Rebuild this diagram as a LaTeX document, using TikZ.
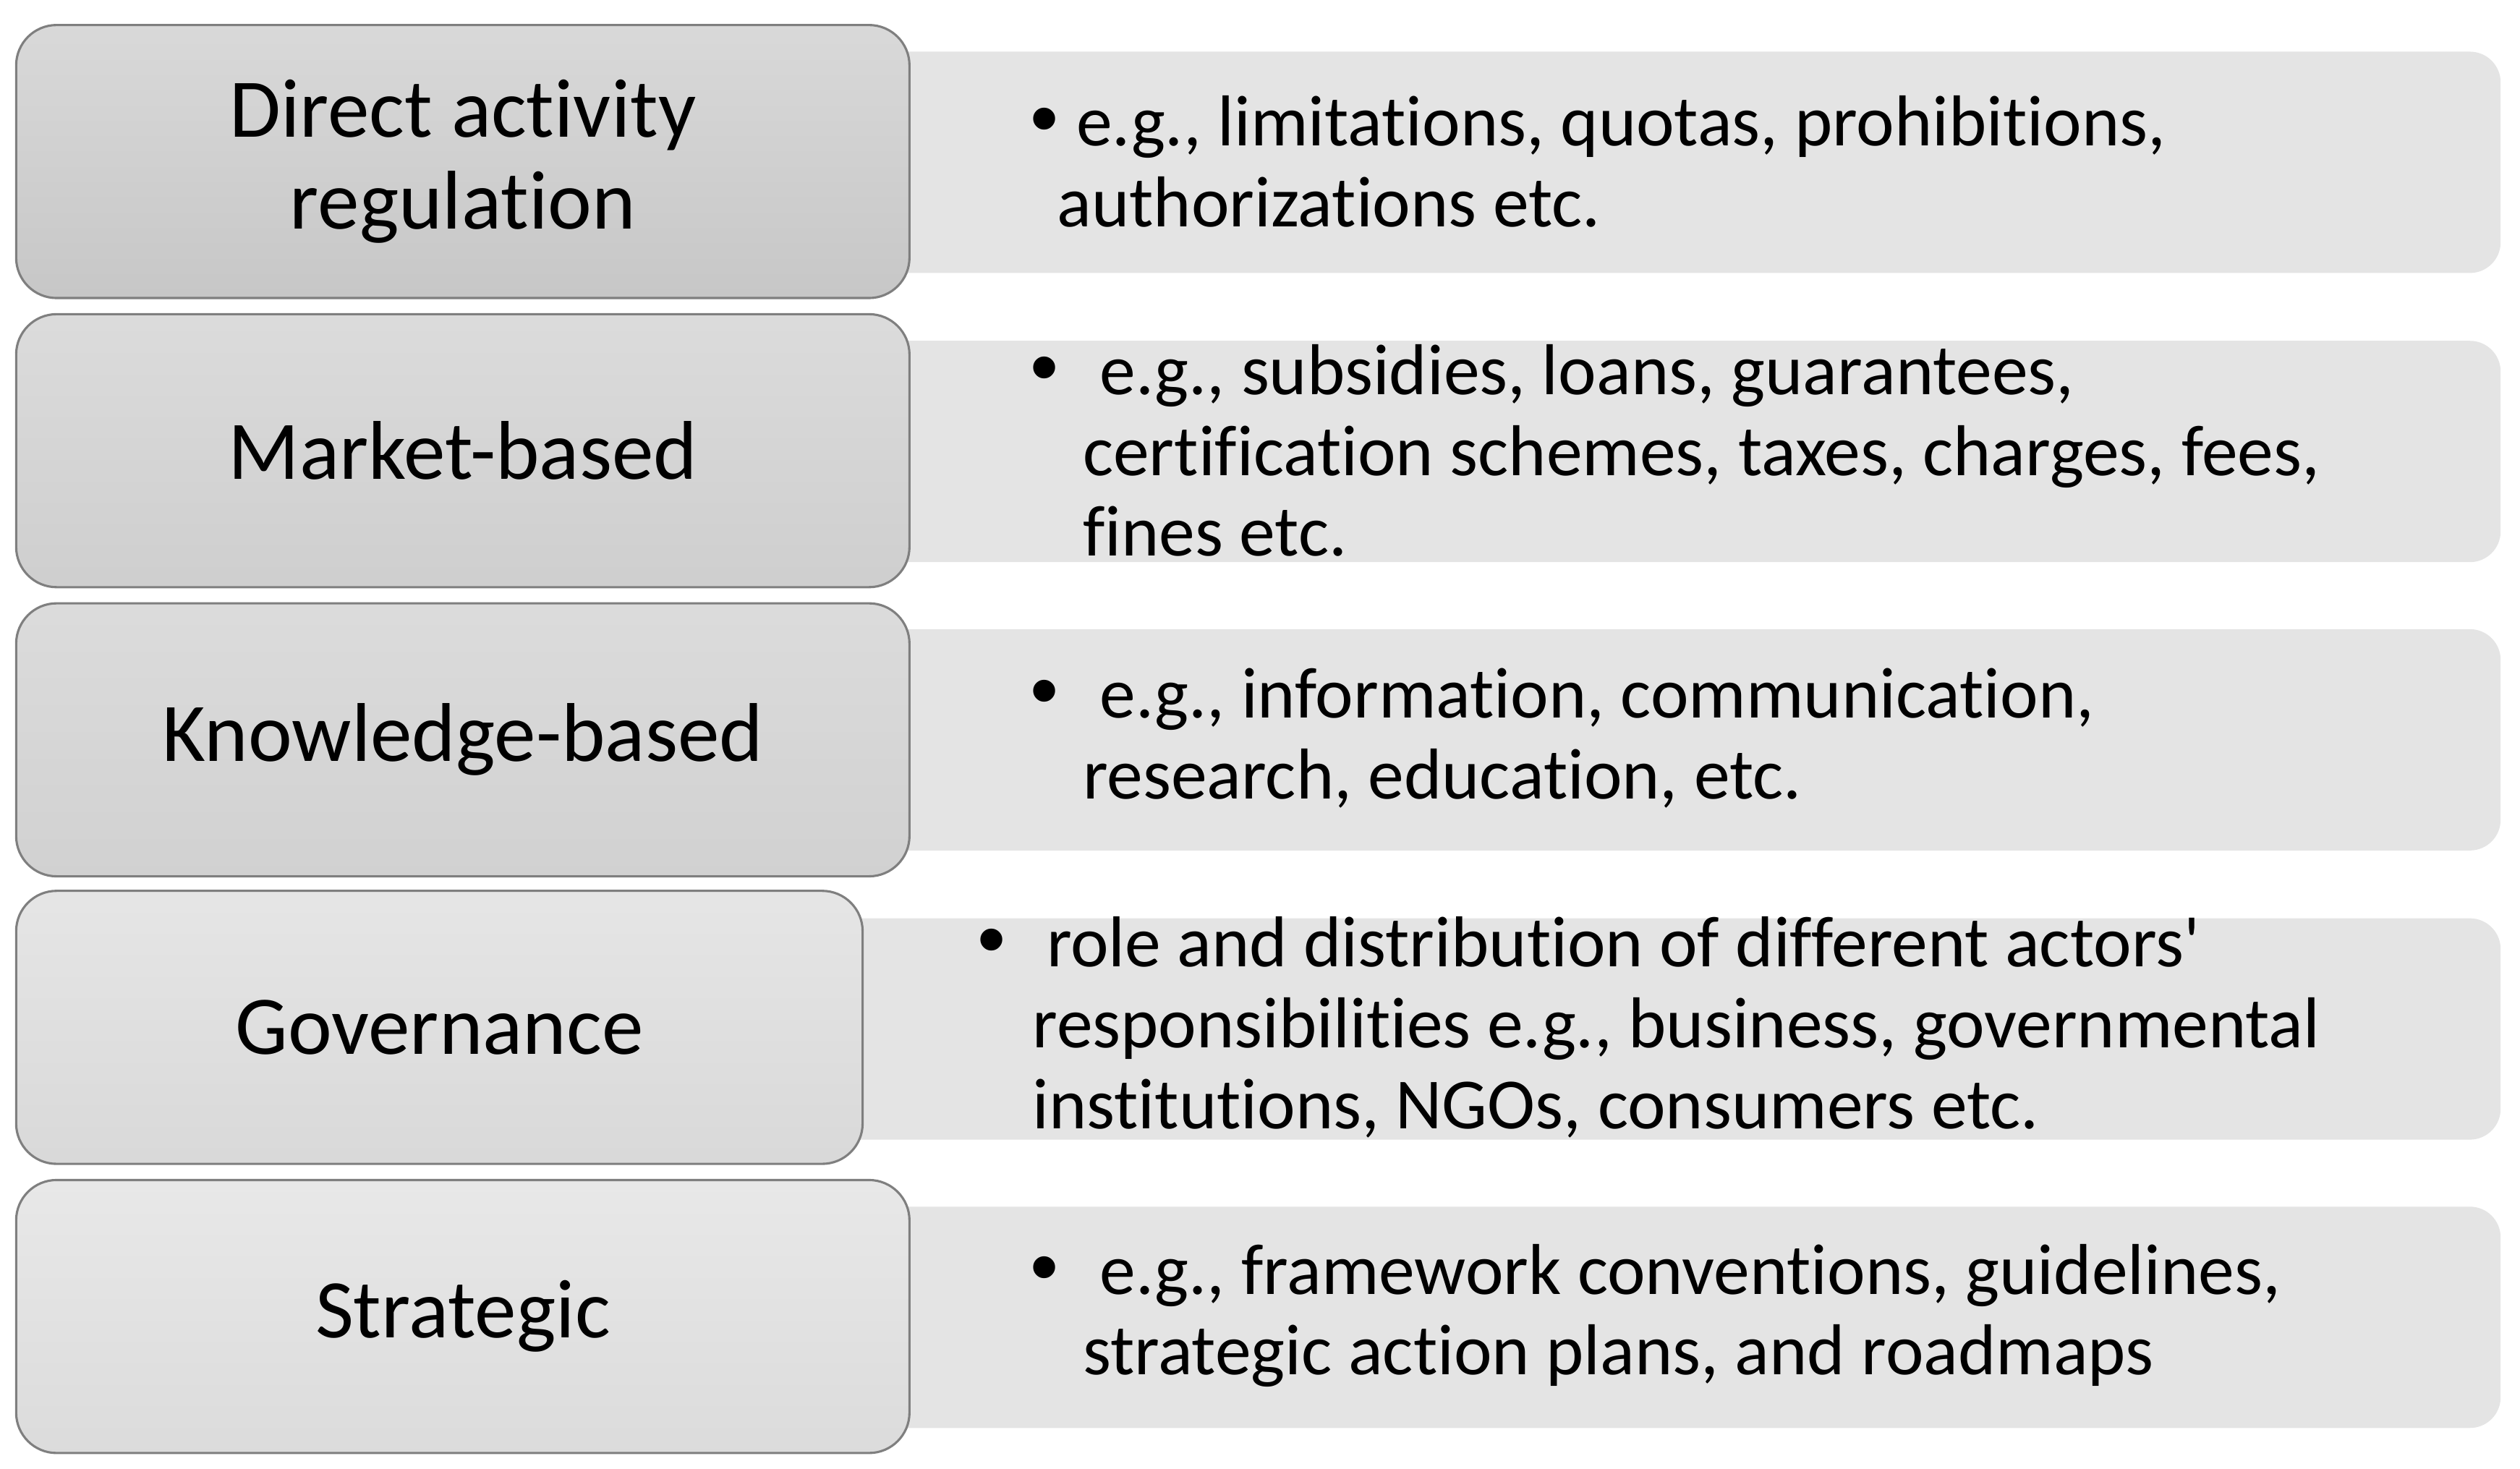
\documentclass[tikz,border=0pt]{standalone}
\usepackage{fontspec}
\setmainfont{Carlito}[Ligatures=NoCommon]
\newfontfamily\bulletfont{Liberation Sans}
\usetikzlibrary{positioning}
\definecolor{detailgray}{HTML}{E4E4E4}
\definecolor{edgegray}{HTML}{7F7F7F}
\tikzset{category/.style={
  % The shape:
  rectangle, rounded corners=12.5pt,
  % The size:
  minimum width=276.5pt, minimum height=84.5pt,
  % The border:
  draw=edgegray, line width=0.7pt,
  % Font:
  font=\fontsize{25.8}{28.5}\selectfont, align=center,
  }
}
\tikzset{detail/.style={
  % The shape:
  rectangle, rounded corners=9.5pt,
  minimum width=524pt, minimum height=68.5pt,
  % The rest
  fill=detailgray, draw=none,
  }
}
\tikzset{bullets/.style={
  inner sep=0pt, anchor=west, align=left,
  font=\fontsize{22.3}{25}\selectfont,
  }
}
\newcommand{\bul}[1]{\makebox[#1][l]{\hspace*{-1.2pt}{\bulletfont\fontsize{25}{25}\selectfont •}}}

\begin{document}
\begin{tikzpicture}[x=0.5pt,y=-0.5pt]
  \useasboundingbox (0,0) rectangle (1560,909);
  % Right-hand boxes:
  \node (d1) [detail] at (1024,100.5) {};
  \node (d2) [detail] at (1024,279.5) {};
  \node (d3) [detail] at (1024,458)   {};
  \node (d4) [detail] at (1024,637)   {};
  \node (d5) [detail] at (1024,815.5) {};
  % Left-hand boxes:
  \node (direct)    [category, top color=black!15, bottom color=black!22] at (286.5,100) {Direct activity\\regulation};
  \node (market)    [category, top color=black!14, bottom color=black!19] at (286.5,279) {Market-based};
  \node (knowledge) [category, top color=black!14, bottom color=black!18] at (286.5,458) {Knowledge-based};
  \node (govern)    [category, minimum width=262pt, top color=black!10, bottom color=black!15] at (272,636) {Governance};
  \node (strategic) [category, top color=black!9, bottom color=black!14] at (286.5,815) {Strategic};
  % Texts:
  \node (t1) [bullets] at (640,100) {\bul{13pt}e.g., limitations, quotas, prohibitions,\\\hspace*{7pt}authorizations etc.};
  \node (t2) [bullets] at (640,279) {\bul{20.3pt}e.g., subsidies, loans, guarantees,\\\hspace*{15pt}certification schemes, taxes, charges, fees,\\\hspace*{15pt}fines etc.};
  \node (t3) [bullets] at (640,457) {\bul{20.3pt}e.g., information, communication,\\\hspace*{15pt}research, education, etc.};
  \node (t4) [bullets] at (607,636) {\bul{20.3pt}role and distribution of different actors\textquotesingle\\\hspace*{15.9pt}responsibilities e.g., business, governmental\\\hspace*{15.9pt}institutions, NGOs, consumers etc.};
  \node (t5) [bullets] at (640,814.5) {\bul{20.3pt}e.g., framework conventions, guidelines,\\\hspace*{15pt}strategic action plans, and roadmaps};
\end{tikzpicture}
\end{document}
